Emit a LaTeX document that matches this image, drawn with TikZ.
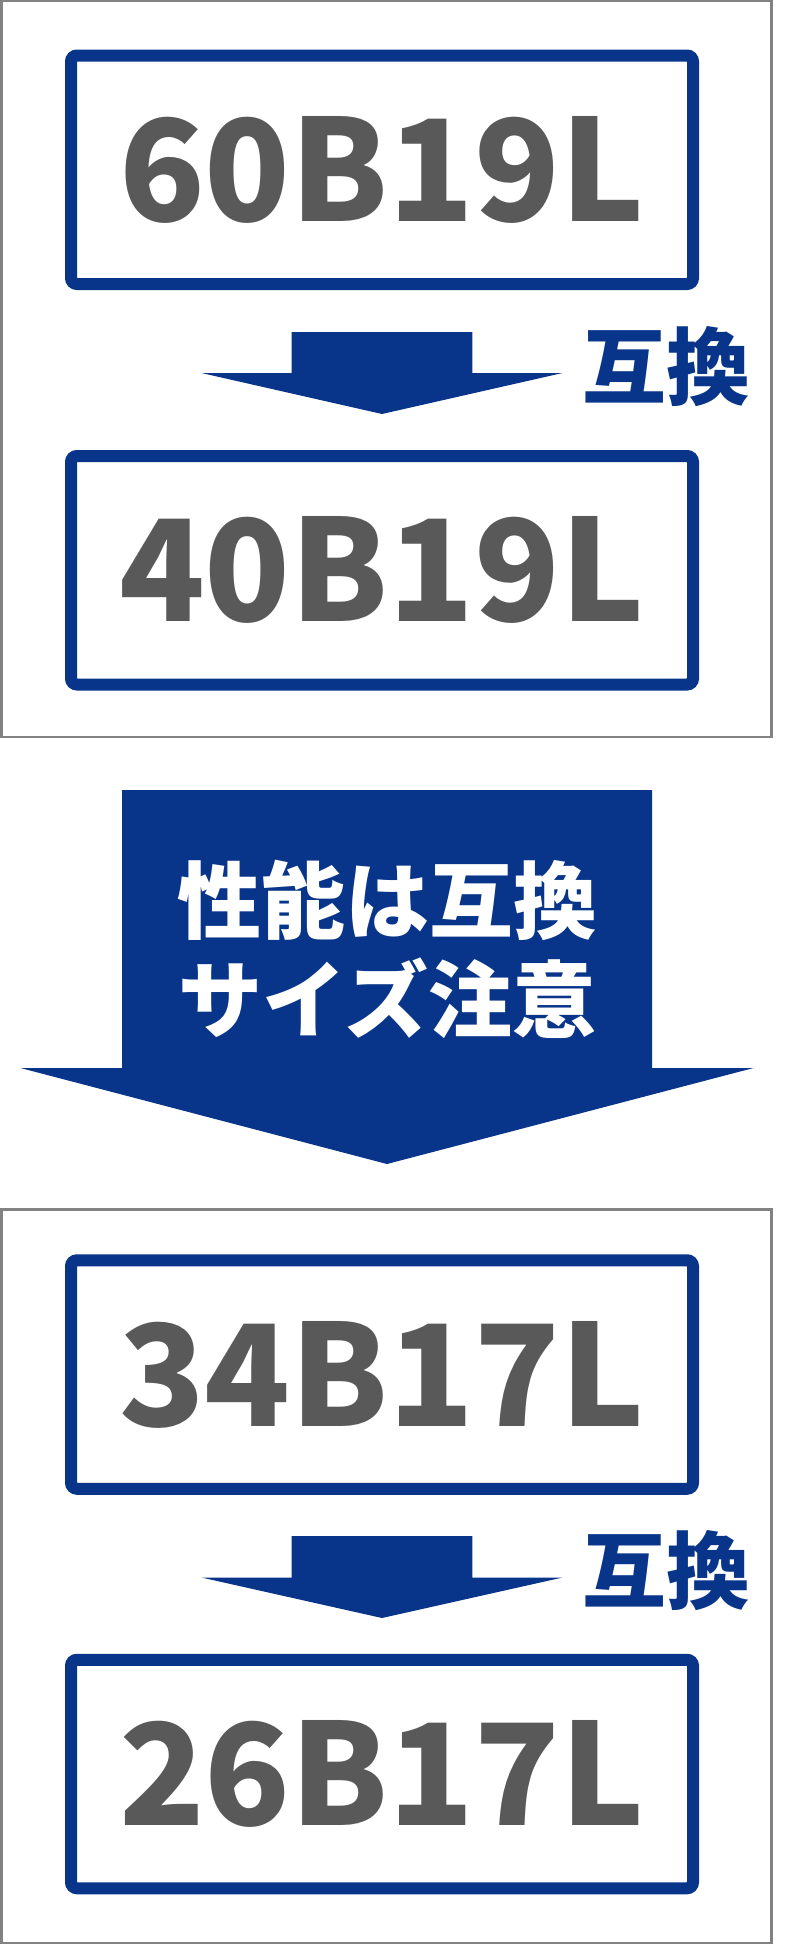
\documentclass[tikz,border=0pt]{standalone}
\usepackage{fontspec}
\setmainfont{Noto Sans CJK JP}
\definecolor{nblue}{HTML}{08358A}
\definecolor{tgray}{HTML}{595959}
\definecolor{pgray}{HTML}{828282}
\begin{document}
\begin{tikzpicture}[x=1pt,y=-1pt,
  panel/.style={draw=pgray,line width=2.5pt},
  sizebox/.style={draw=nblue,line width=12pt,rounded corners=6pt,
    minimum width=622pt,minimum height=228.5pt,inner sep=0pt,outer sep=0pt,
    font=\bfseries\fontsize{141}{141}\selectfont,text=tgray},
  swaplabel/.style={inner sep=0pt,text=nblue,font=\bfseries\fontsize{84}{84}\selectfont},
  blockarrow/.style={fill=nblue,draw=none},
  bigtext/.style={inner sep=0pt,text=white,align=center,
    font=\bfseries\fontsize{84}{99}\selectfont}]
\useasboundingbox (0,0) rectangle (800,1946);
% ---------- top panel ----------
\draw[panel] (1.3,1) rectangle (771.3,737);
\node[sizebox] (b1) at (382,169.75) {60B19L};
\node[sizebox] (b2) at (382,570.25) {40B19L};
\fill[blockarrow] (291.7,332) -- (472.3,332) -- (472.3,373) -- (562.5,373)
  -- (382,414) -- (201.5,373) -- (291.7,373) -- cycle;
\node[swaplabel] (l1) at (666.5,366.7) {互換};
% ---------- big arrow ----------
\fill[blockarrow] (122,790) -- (652,790) -- (652,1068) -- (753.5,1068)
  -- (387,1164) -- (20.5,1068) -- (122,1068) -- cycle;
\node[bigtext] (warn) at (387.5,949.5) {性能は互換\\サイズ注意};
% ---------- bottom panel ----------
\draw[panel] (1.3,1209.3) rectangle (771.3,1943);
\node[sizebox] (b3) at (382,1374.5) {34B17L};
\node[sizebox] (b4) at (382,1774) {26B17L};
\fill[blockarrow] (291.7,1536) -- (472.3,1536) -- (472.3,1577.5) -- (562.5,1577.5)
  -- (382,1618) -- (201.5,1577.5) -- (291.7,1577.5) -- cycle;
\node[swaplabel] (l2) at (666.5,1570.5) {互換};
\end{tikzpicture}
\end{document}
